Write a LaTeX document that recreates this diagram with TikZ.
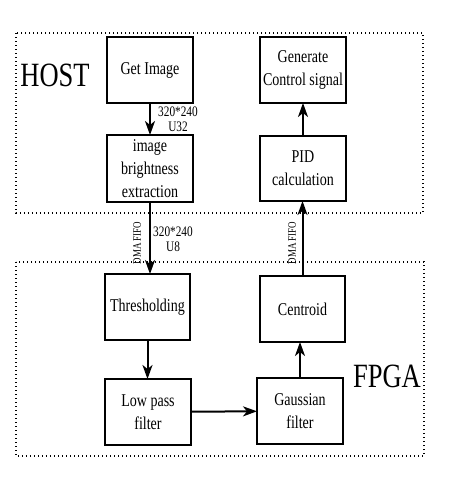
\documentclass[tikz,border=0pt]{standalone}
\usepackage{fontspec}
\setmainfont{Liberation Serif}[FakeStretch=0.78]
\usetikzlibrary{arrows.meta}
\begin{document}
\begin{tikzpicture}[x=1pt,y=-1pt,
  blk/.style={draw,line width=2.3pt,minimum width=86pt,minimum height=66pt,inner sep=0pt,outer sep=0pt,align=center,font=\fontsize{18}{23}\selectfont},
  arr/.style={line width=2pt,-{Stealth[length=14pt,width=10pt,inset=4pt]}},
  zone/.style={line width=1.4pt,dash pattern=on 1.4pt off 2.6pt},
  big/.style={font=\fontsize{34}{36}\selectfont,inner sep=0pt},
  lab/.style={font=\fontsize{14.5}{15.5}\selectfont,align=center,inner sep=0pt},
  dma/.style={font=\fontsize{11.5}{12}\selectfont,rotate=90,inner sep=0pt}]
\useasboundingbox (0,0) rectangle (474,504);
\draw[zone] (16,33) rectangle (423,213);
\draw[zone] (16,262) rectangle (424,456);
\node[big] (host) at (55,75) {HOST};
\node[big] (fpga) at (387,376) {FPGA};
\node[blk] (get) at (150,70) {Get Image};
\node[blk,minimum height=67pt] (bri) at (150,168.5) {image\\brightness\\extraction};
\node[blk] (gen) at (303,70) {Generate\\Control signal};
\node[blk,minimum height=65pt] (pid) at (303,168.5) {PID\\calculation};
\node[blk,minimum width=85pt] (thr) at (147.5,307) {Thresholding};
\node[blk,minimum width=85pt] (cen) at (302.5,309) {Centroid};
\node[blk] (lp) at (148,412) {Low pass\\filter};
\node[blk] (gau) at (300,411) {Gaussian\\filter};
\draw[arr] (get) -- (bri);
\draw[arr] (bri.south) -- (bri.south |- thr.north);
\draw[arr] (cen.north) -- (cen.north |- pid.south);
\draw[arr] (pid) -- (gen);
\draw[arr] (thr.south) -- (thr.south |- lp.north);
\draw[arr] (lp) -- (gau);
\draw[arr] (gau.north) -- (gau.north |- cen.south);
\node[lab] (l1) at (178,119) {320*240\\U32};
\node[lab] (l2) at (173,239) {320*240\\U8};
\node[dma] (d1) at (137,243) {DMA FIFO};
\node[dma] (d2) at (292,243) {DMA FIFO};
\end{tikzpicture}
\end{document}
